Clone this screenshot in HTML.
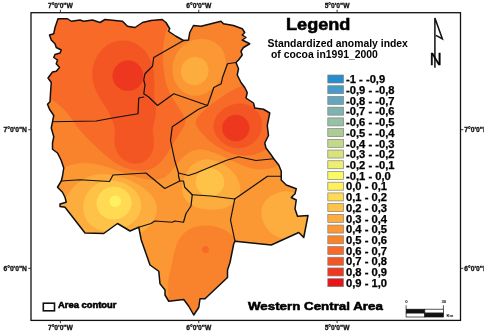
<!DOCTYPE html><html><head><meta charset="utf-8"><title>Standardized anomaly index of cocoa</title><style>
html,body{margin:0;padding:0;background:#fff}
#m{position:relative;width:484px;height:332px;overflow:hidden;background:#fff;font-family:"Liberation Sans",sans-serif;color:#000}
.t{position:absolute;white-space:nowrap;line-height:1;transform-origin:0 0}
.blk{font-weight:bold;-webkit-text-stroke:0.55px #000}
.lg{font-weight:bold;font-size:10px;left:346px;transform:scaleX(1.12);-webkit-text-stroke:0.25px #000}
.ax{font-size:6.7px;font-weight:bold;color:#111;-webkit-text-stroke:0.3px #111}

</style></head><body><div id="m">
<svg width="484" height="332" viewBox="0 0 484 332" style="position:absolute;left:0;top:0">
<defs><clipPath id="mc"><path d="M58,18.75 L67.5,18.75 L71.25,21.25 L80,20 L83.75,21.25 L92.5,20 L100,22.5 L105,19.5 L115,20.5 L122.5,21.25 L127.5,26.25 L135,27.5 L142.5,22.5 L151,20.5 L162.25,19.5 L166,22.5 L169.75,28.75 L168.5,31.25 L176,36.25 L183.5,40.5 L188.5,40 L189.75,32.5 L193.5,25.5 L201,26.25 L211,23.75 L221,21.25 L223.5,23.75 L233.5,25.5 L242.25,28.75 L244.75,32.5 L242.25,35 L246,37.5 L242.25,40 L249.75,43.75 L243.5,47.5 L241,51.25 L242.25,55 L238.5,60 L236,62.5 L238.5,68.75 L237.25,75 L241,82.5 L244.75,87.5 L247.25,92.5 L246,98 L253.5,103 L254.75,108 L263.5,109.25 L269.75,113 L267.25,125.5 L268.5,135.5 L264.75,143 L266,148 L271.25,155 L273.75,158.75 L278.75,165 L281.25,171.25 L281.25,180 L286.25,185 L296.25,188.75 L295,193.75 L291.25,197.5 L296.25,200 L295,208.75 L297.5,216.25 L308,215.5 L303.75,237.5 L298.75,232.5 L271.25,245 L235,241.25 L233.75,243.75 L230,262.5 L227.5,270 L227.5,277.5 L205,298.75 L200,298.75 L198.75,307.5 L193.75,315 L188.75,306.25 L183.75,299.5 L168.75,301.25 L165,295 L165,290 L160,283.75 L158.75,271.25 L150,265 L141.25,240 L138.75,227.25 L130,231 L117.5,223.5 L103.75,233.5 L85,233 L65,207.25 L60,206.5 L60,204 L66.25,202.25 L65,197.25 L62.5,192.25 L57.5,187.25 L61.25,181 L62.5,176 L63.75,168 L61.25,160.5 L57.5,153 L52.5,149.25 L52.5,143 L53.75,136.75 L51.25,128 L52.5,121.75 L53.75,115.5 L49.5,109.25 L47.5,104.25 L50,101.75 L50.5,93 L51.25,82.5 L48,78 L52.5,72 L56.25,71.25 L59.5,67.5 L56.25,63.75 L57.5,60 L53.75,57.5 L55,54.5 L60,53 L61.25,50 L56.25,47.5 L55,43.75 L51.25,40 L49.5,35 L53.75,33.75 L55,27.5Z"/></clipPath></defs>
<g clip-path="url(#mc)">
<rect x="40" y="10" width="280" height="312" fill="#f9832d"/>
<path d="M115.0,195.0 116.0,195.0 118.0,195.6 120.0,197.0 121.2,199.0 121.7,201.0 121.4,203.0 121.1,204.0 120.0,205.6 118.0,207.0 116.0,207.6 114.0,207.5 113.0,207.2 111.0,206.0 110.1,205.0 109.6,204.0 109.0,202.0 109.1,200.0 109.4,199.0 110.6,197.0 111.8,196.0 113.0,195.4 115.0,195.0Z" fill="#fff05f" stroke="#fff05f" stroke-width="0.6" fill-rule="evenodd"/>
<path d="M109.0,186.8 112.0,186.2 116.0,186.3 119.0,186.9 122.0,188.0 125.0,189.7 127.6,192.0 129.9,195.0 131.3,198.0 132.0,201.0 132.1,203.0 132.0,205.0 131.3,208.0 130.0,210.9 128.0,213.7 126.0,215.6 123.0,217.6 120.0,219.0 117.0,219.8 113.0,220.1 109.0,219.5 106.0,218.5 103.3,217.0 100.9,215.0 98.5,212.0 97.1,209.0 96.3,206.0 96.1,204.0 96.1,202.0 96.4,200.0 97.0,198.0 98.3,195.0 100.5,192.0 102.6,190.0 105.8,188.0 109.0,186.8ZM114.8,195.0 113.0,195.4 112.0,195.9 110.6,197.0 109.4,199.0 109.1,200.0 109.0,202.0 109.6,204.0 110.1,205.0 111.0,206.0 113.0,207.2 114.0,207.5 116.0,207.6 118.0,207.0 120.0,205.6 121.1,204.0 121.4,203.0 121.7,201.0 121.2,199.0 120.0,197.0 118.0,195.6 116.0,195.0 114.8,195.0Z" fill="#ffda52" stroke="#ffda52" stroke-width="0.6" fill-rule="evenodd"/>
<path d="M207.0,167.9 209.0,167.7 212.0,167.9 215.0,168.7 217.5,170.0 220.0,171.9 221.9,174.0 223.1,176.0 224.3,179.0 224.7,181.0 224.7,184.0 224.0,187.0 223.0,189.2 221.0,191.9 219.0,193.6 216.7,195.0 214.0,196.0 211.0,196.5 208.0,196.3 205.0,195.6 203.0,194.8 200.3,193.0 198.4,191.0 197.0,189.0 195.7,186.0 195.2,183.0 195.3,180.0 196.1,177.0 197.6,174.0 199.2,172.0 201.6,170.0 204.0,168.7 207.0,167.9ZM104.0,180.8 109.0,180.1 112.0,180.1 115.0,180.4 118.0,180.9 121.0,181.7 124.0,182.8 126.5,184.0 131.4,187.0 133.8,189.0 135.7,191.0 137.4,193.0 138.7,195.0 139.7,197.0 140.8,200.0 141.5,204.0 141.6,207.0 141.3,209.0 140.6,212.0 139.8,214.0 137.5,218.0 135.8,220.0 133.8,222.0 131.4,224.0 129.0,225.6 124.0,228.3 118.0,230.5 115.0,231.2 112.0,231.7 109.0,231.9 106.0,231.8 101.0,231.0 98.0,230.0 96.0,229.1 92.0,226.6 90.0,224.8 88.3,223.0 86.8,221.0 85.6,219.0 84.7,217.0 83.6,214.0 83.2,212.0 82.8,209.0 82.7,206.0 83.0,203.0 83.5,201.0 84.4,198.0 85.7,195.0 86.8,193.0 88.2,191.0 90.0,188.8 91.9,187.0 94.4,185.0 97.0,183.4 99.0,182.5 101.0,181.7 104.0,180.8ZM108.3,187.0 105.0,188.4 102.0,190.5 99.6,193.0 97.8,196.0 96.7,199.0 96.1,202.0 96.1,204.0 96.3,206.0 97.1,209.0 98.5,212.0 100.9,215.0 104.0,217.4 107.0,218.9 110.0,219.7 114.0,220.1 118.0,219.6 121.0,218.6 124.0,217.1 126.7,215.0 129.0,212.4 130.5,210.0 131.6,207.0 132.1,204.0 132.1,202.0 131.8,200.0 130.9,197.0 129.2,194.0 127.6,192.0 125.0,189.7 122.0,188.0 119.0,186.9 115.0,186.2 112.0,186.2 108.3,187.0Z" fill="#fec248" stroke="#fec248" stroke-width="0.6" fill-rule="evenodd"/>
<path d="M192.0,56.9 195.0,56.5 198.0,56.9 201.0,57.9 203.0,59.0 205.3,61.0 207.0,63.3 208.2,66.0 208.9,69.0 208.9,72.0 208.3,75.0 207.0,78.0 205.7,80.0 203.8,82.0 201.0,83.9 198.5,85.0 196.0,85.5 193.0,85.6 191.0,85.2 188.0,84.1 186.0,82.8 184.0,80.9 182.1,78.0 181.0,75.2 180.6,73.0 180.6,70.0 180.9,68.0 181.9,65.0 183.0,63.0 185.0,60.6 187.0,59.0 189.0,57.9 192.0,56.9ZM205.0,159.0 209.0,159.0 214.0,159.9 219.0,161.6 223.7,164.0 228.0,167.0 231.4,170.0 234.9,174.0 237.5,178.0 239.3,182.0 240.3,186.0 240.7,190.0 240.3,194.0 239.7,196.0 238.8,198.0 236.7,201.0 234.0,203.6 230.4,206.0 228.0,207.2 225.0,208.3 222.0,209.1 218.0,209.8 215.0,210.1 211.0,210.2 207.0,209.9 203.0,209.4 199.0,208.5 196.0,207.5 193.0,206.1 191.0,205.0 189.0,203.6 187.1,202.0 185.4,200.0 184.1,198.0 183.1,196.0 182.2,193.0 181.8,190.0 181.8,187.0 182.3,183.0 183.0,180.0 184.4,176.0 185.8,173.0 187.5,170.0 189.8,167.0 191.7,165.0 194.0,163.1 196.0,161.8 199.0,160.4 202.0,159.5 205.0,159.0ZM206.3,168.0 203.4,169.0 201.0,170.4 199.0,172.2 197.0,175.0 196.0,177.3 195.3,180.0 195.2,183.0 195.7,186.0 197.0,189.0 198.4,191.0 200.3,193.0 203.0,194.8 205.0,195.6 208.0,196.3 211.0,196.5 214.0,196.0 216.7,195.0 219.0,193.6 221.0,191.9 223.0,189.2 224.0,187.0 224.7,184.0 224.7,181.0 224.3,179.0 223.1,176.0 221.9,174.0 220.0,171.9 217.5,170.0 215.0,168.7 212.0,167.9 209.0,167.7 206.3,168.0ZM98.0,173.9 102.0,173.7 107.0,173.8 112.0,174.5 118.0,175.8 124.0,177.6 130.0,180.0 134.3,182.0 139.7,185.0 144.1,188.0 147.8,191.0 151.7,195.0 153.9,198.0 155.6,201.0 156.7,204.0 157.3,207.0 157.3,211.0 156.7,214.0 155.8,217.0 154.4,220.0 152.6,223.0 150.2,226.0 148.2,228.0 145.8,230.0 143.0,231.9 139.3,234.0 127.8,240.0 115.0,247.4 108.0,250.8 103.0,252.4 99.0,253.3 94.0,253.7 90.0,253.5 86.0,252.8 83.0,252.0 80.0,250.8 77.0,249.3 74.0,247.3 71.2,245.0 69.0,242.8 67.0,240.3 65.0,237.3 63.3,234.0 62.1,231.0 61.2,228.0 60.6,225.0 60.1,221.0 60.1,218.0 60.3,214.0 60.7,211.0 61.7,207.0 62.6,204.0 64.2,200.0 66.3,196.0 68.2,193.0 70.4,190.0 73.0,187.0 76.0,184.0 78.5,182.0 81.3,180.0 84.7,178.0 88.0,176.5 91.0,175.4 94.0,174.6 98.0,173.9ZM103.3,181.0 100.1,182.0 97.8,183.0 95.0,184.6 93.1,186.0 90.8,188.0 89.0,190.0 86.2,194.0 85.2,196.0 84.0,199.0 83.2,202.0 82.8,205.0 82.7,208.0 83.0,211.0 83.6,214.0 84.3,216.0 85.6,219.0 86.8,221.0 88.3,223.0 90.0,224.8 92.0,226.6 94.0,228.0 96.0,229.1 99.0,230.4 104.0,231.6 109.0,231.9 112.0,231.7 115.0,231.2 121.0,229.5 126.0,227.3 131.0,224.3 134.9,221.0 136.7,219.0 138.1,217.0 140.2,213.0 140.9,211.0 141.5,208.0 141.6,206.0 141.4,203.0 140.5,199.0 139.2,196.0 138.0,194.0 136.6,192.0 134.8,190.0 131.0,186.7 128.4,185.0 126.0,183.7 121.0,181.7 118.0,180.9 115.0,180.4 112.0,180.1 109.0,180.1 106.0,180.5 103.3,181.0ZM279.0,192.0 284.0,191.1 289.0,191.1 293.7,192.0 298.0,193.6 302.0,196.0 305.4,199.0 307.2,201.0 308.5,203.0 310.5,207.0 311.7,211.0 312.1,214.0 312.2,216.0 311.9,219.0 311.6,221.0 310.3,225.0 308.1,229.0 306.5,231.0 305.0,232.6 303.0,234.4 301.0,235.8 297.0,237.8 295.0,238.5 292.0,239.2 290.0,239.4 287.0,239.5 282.0,238.8 279.0,237.9 277.0,237.0 273.0,234.7 270.7,233.0 268.6,231.0 265.4,227.0 264.0,224.6 262.8,222.0 261.8,219.0 261.3,217.0 260.9,213.0 261.1,210.0 261.5,208.0 262.1,206.0 263.0,204.0 264.2,202.0 265.8,200.0 269.0,197.0 271.0,195.5 273.7,194.0 276.0,193.0 279.0,192.0Z" fill="#fdac3e" stroke="#fdac3e" stroke-width="0.6" fill-rule="evenodd"/>
<path d="M197.0,38.9 200.0,38.6 203.0,38.6 208.0,39.3 211.0,40.2 213.0,41.1 216.0,42.8 218.0,44.4 219.8,46.0 221.5,48.0 223.0,50.3 224.4,53.0 225.1,55.0 225.9,58.0 226.3,61.0 226.3,64.0 225.9,67.0 225.3,70.0 224.3,73.0 223.0,76.0 221.4,79.0 219.3,82.0 216.9,85.0 215.0,86.9 212.7,89.0 210.1,91.0 208.0,92.3 205.0,93.9 202.0,95.1 199.0,95.9 196.0,96.2 194.0,96.2 191.0,95.7 189.0,95.2 185.0,93.3 183.0,92.0 181.0,90.4 177.9,87.0 175.4,83.0 174.4,81.0 173.4,78.0 172.3,73.0 172.1,70.0 172.2,67.0 172.9,62.0 174.5,57.0 177.0,52.1 180.0,48.2 182.0,46.2 184.0,44.5 188.0,42.0 192.0,40.2 197.0,38.9ZM191.5,57.0 189.0,57.9 187.0,59.0 185.0,60.6 183.0,63.0 181.9,65.0 180.9,68.0 180.5,71.0 180.7,74.0 181.6,77.0 182.6,79.0 184.1,81.0 186.3,83.0 189.0,84.6 191.0,85.2 194.0,85.6 197.0,85.4 200.0,84.4 202.5,83.0 204.8,81.0 206.4,79.0 207.5,77.0 208.6,74.0 209.0,71.0 208.8,68.0 208.0,65.4 206.8,63.0 205.0,60.7 203.0,59.0 200.0,57.4 197.0,56.7 194.0,56.6 191.5,57.0ZM194.0,150.0 197.0,149.3 201.0,149.1 205.0,149.6 209.0,150.6 214.0,152.3 219.0,154.3 239.0,163.5 246.0,166.4 252.0,168.2 255.0,168.8 258.0,169.1 263.0,169.1 269.0,168.2 275.0,166.9 290.0,162.8 297.0,161.1 305.0,159.5 312.0,158.4 320.0,157.7 327.0,157.6 335.0,158.0 342.0,158.8 348.2,160.0 355.0,161.7 361.8,164.0 368.0,166.6 374.0,169.5 380.1,173.0 386.1,177.0 391.3,181.0 394.8,184.0 399.0,188.0 402.8,192.0 406.2,196.0 412.2,204.0 414.8,208.0 417.7,213.0 422.1,222.0 424.2,227.0 425.9,232.0 428.7,242.0 430.5,252.0 431.5,262.0 431.6,267.0 431.5,273.0 430.6,283.0 428.8,293.0 426.0,303.0 424.3,308.0 422.3,313.0 417.9,322.0 415.0,327.0 412.4,331.0 286.0,331.0 273.5,306.0 266.2,292.0 252.0,266.8 242.8,250.0 239.8,245.0 237.0,241.0 234.0,237.5 231.0,234.6 227.5,232.0 223.9,230.0 220.0,228.4 215.0,226.9 210.0,226.1 205.0,225.8 200.0,226.2 195.0,227.2 191.0,228.7 187.1,231.0 183.6,234.0 181.1,237.0 178.6,241.0 176.4,246.0 174.4,253.0 172.0,265.1 169.3,277.0 168.4,282.0 168.2,285.0 168.3,288.0 169.3,299.0 169.4,306.0 169.0,311.9 167.4,324.0 166.8,331.0 0.0,331.0 0.0,207.3 0.4,207.0 7.3,201.0 13.7,196.0 22.3,190.0 30.3,185.0 42.5,178.0 55.7,171.0 64.0,167.1 71.0,164.6 77.0,163.2 83.0,162.6 89.0,162.7 95.0,163.5 100.0,164.6 106.0,166.3 128.0,173.9 139.0,177.2 144.0,178.4 149.0,179.3 153.0,179.6 157.0,179.4 160.0,178.9 162.0,178.2 165.0,176.6 167.0,175.1 171.0,171.1 179.2,161.0 184.0,156.0 186.4,154.0 189.0,152.2 191.3,151.0 194.0,150.0ZM205.0,159.0 202.0,159.5 199.0,160.4 196.0,161.8 194.0,163.1 191.7,165.0 189.8,167.0 187.5,170.0 185.8,173.0 184.4,176.0 183.0,180.0 182.3,183.0 181.8,187.0 181.8,190.0 182.2,193.0 183.1,196.0 184.1,198.0 185.4,200.0 187.1,202.0 189.0,203.6 191.0,205.0 193.0,206.1 196.0,207.5 199.0,208.5 203.0,209.4 207.0,209.9 211.0,210.2 215.0,210.1 218.0,209.8 222.0,209.1 225.0,208.3 228.0,207.2 230.4,206.0 234.0,203.6 236.7,201.0 238.8,198.0 239.7,196.0 240.3,194.0 240.7,190.0 240.3,186.0 239.3,182.0 237.5,178.0 234.9,174.0 231.4,170.0 228.0,167.0 223.7,164.0 219.0,161.6 214.0,159.9 209.0,159.0 205.0,159.0ZM97.6,174.0 94.0,174.6 91.0,175.4 88.0,176.5 84.7,178.0 81.3,180.0 78.5,182.0 76.0,184.0 73.0,187.0 70.4,190.0 68.2,193.0 66.3,196.0 64.2,200.0 62.6,204.0 61.7,207.0 60.7,211.0 60.2,215.0 60.1,219.0 60.2,222.0 60.8,226.0 61.5,229.0 62.5,232.0 63.8,235.0 65.4,238.0 67.5,241.0 70.0,243.9 72.0,245.7 74.0,247.3 77.0,249.3 80.0,250.8 83.0,252.0 86.0,252.8 90.0,253.5 94.0,253.7 99.0,253.3 103.0,252.4 108.0,250.8 115.0,247.4 127.8,240.0 139.3,234.0 143.0,231.9 145.8,230.0 148.2,228.0 150.2,226.0 152.6,223.0 154.4,220.0 155.8,217.0 156.7,214.0 157.3,211.0 157.3,207.0 156.7,204.0 155.6,201.0 153.9,198.0 151.7,195.0 147.8,191.0 144.1,188.0 139.7,185.0 134.3,182.0 130.0,180.0 124.0,177.6 118.0,175.8 112.0,174.5 107.0,173.8 102.0,173.7 97.6,174.0ZM279.0,192.0 276.0,193.0 273.7,194.0 271.0,195.5 269.0,197.0 265.8,200.0 264.2,202.0 263.0,204.0 262.1,206.0 261.5,208.0 261.1,210.0 260.9,213.0 261.3,217.0 261.8,219.0 262.8,222.0 264.0,224.6 265.4,227.0 268.6,231.0 270.7,233.0 273.0,234.7 277.0,237.0 279.0,237.9 282.0,238.8 287.0,239.5 290.0,239.4 292.0,239.2 295.0,238.5 297.0,237.8 301.0,235.8 303.0,234.4 305.0,232.6 306.5,231.0 308.1,229.0 310.3,225.0 311.6,221.0 311.9,219.0 312.2,216.0 312.1,214.0 311.7,211.0 310.5,207.0 308.5,203.0 307.2,201.0 305.4,199.0 302.0,196.0 298.0,193.6 293.7,192.0 289.0,191.1 284.0,191.1 279.0,192.0Z" fill="#fb9834" stroke="#fb9834" stroke-width="0.6" fill-rule="evenodd"/>
<path d="M181.0,0.9 181.5,0.0 483.0,0.0 483.0,331.0 412.4,331.0 416.0,325.4 419.0,319.9 421.8,314.0 424.3,308.0 426.4,302.0 428.3,295.0 429.6,289.0 430.7,282.0 431.3,276.0 431.6,269.0 431.5,262.0 430.9,255.0 429.9,248.0 428.7,242.0 426.9,235.0 424.9,229.0 422.6,223.0 419.8,217.0 416.6,211.0 412.9,205.0 408.6,199.0 404.6,194.0 400.0,189.0 395.9,185.0 391.3,181.0 386.1,177.0 380.1,173.0 375.0,170.0 370.0,167.5 364.0,164.9 358.0,162.7 352.0,160.9 343.0,159.0 334.0,157.9 325.0,157.6 316.0,158.0 308.0,159.0 299.0,160.6 291.0,162.5 274.5,167.0 269.0,168.2 263.0,169.1 258.0,169.1 255.0,168.8 252.0,168.2 249.0,167.4 245.0,166.0 239.0,163.5 220.0,154.7 211.0,151.2 207.0,150.0 204.0,149.4 201.0,149.1 198.0,149.2 194.0,150.0 191.0,151.1 188.0,152.8 185.1,155.0 182.9,157.0 180.0,160.1 170.0,172.2 167.1,175.0 165.0,176.6 163.0,177.7 160.0,178.9 157.0,179.4 154.0,179.6 151.0,179.5 147.0,179.0 142.0,177.9 137.0,176.7 126.0,173.3 107.0,166.6 98.0,164.1 93.0,163.2 88.0,162.6 83.0,162.6 79.0,162.9 75.0,163.6 71.0,164.6 67.0,165.9 63.0,167.6 53.7,172.0 38.9,180.0 27.0,187.0 17.9,193.0 8.5,200.0 0.0,207.3 0.0,79.3 7.0,83.1 15.0,86.6 23.0,89.4 39.0,94.2 46.0,96.8 52.0,99.7 57.0,102.9 62.0,107.0 66.0,111.2 69.9,116.0 76.3,125.0 80.2,130.0 84.5,135.0 89.4,140.0 101.0,151.0 107.8,157.0 114.5,162.0 120.0,165.2 126.0,167.8 132.0,169.6 138.0,170.4 141.0,170.5 144.0,170.3 149.0,169.2 153.0,167.6 157.1,165.0 159.5,163.0 161.4,161.0 163.8,158.0 166.6,154.0 175.0,139.9 182.6,128.0 184.2,125.0 185.0,122.0 185.1,121.0 184.7,119.0 183.5,116.0 181.8,113.0 175.0,102.7 172.0,97.8 169.0,92.0 167.0,87.2 165.4,82.0 164.1,76.0 163.2,69.0 162.6,61.0 162.6,53.0 163.1,45.0 164.1,38.0 165.8,31.0 168.0,24.7 171.0,18.2 174.0,12.7 181.0,0.9ZM196.5,39.0 192.0,40.2 189.0,41.5 187.0,42.5 183.0,45.3 181.0,47.2 179.0,49.4 176.0,53.8 174.1,58.0 172.7,63.0 172.1,68.0 172.3,73.0 173.4,78.0 174.4,81.0 175.4,83.0 178.0,87.1 180.0,89.4 182.0,91.2 184.0,92.7 186.0,93.9 190.0,95.5 192.0,95.9 195.0,96.2 197.0,96.1 200.0,95.7 203.0,94.8 206.0,93.4 208.5,92.0 211.0,90.3 213.8,88.0 216.0,85.9 217.7,84.0 220.1,81.0 222.0,78.0 223.5,75.0 224.7,72.0 225.6,69.0 226.1,66.0 226.3,63.0 226.2,60.0 225.7,57.0 225.0,54.6 224.0,52.1 222.8,50.0 221.5,48.0 219.8,46.0 217.6,44.0 215.0,42.2 213.0,41.1 211.0,40.2 208.0,39.3 205.0,38.7 202.0,38.5 199.0,38.7 196.5,39.0ZM255.9,83.0 250.0,83.8 247.0,84.5 243.0,85.8 239.0,87.4 235.0,89.3 227.0,93.8 217.0,100.5 207.3,108.0 203.9,111.0 200.8,114.0 198.3,117.0 197.0,119.0 196.6,120.0 196.2,122.0 196.2,123.0 196.7,125.0 197.7,127.0 198.9,129.0 202.9,134.0 207.8,139.0 212.6,143.0 218.5,147.0 225.0,150.4 230.0,152.5 234.0,153.7 238.0,154.6 242.0,155.2 246.0,155.3 250.0,155.0 254.0,154.2 257.0,153.3 261.0,151.7 265.0,149.4 268.5,147.0 271.9,144.0 274.8,141.0 278.0,137.0 280.5,133.0 282.0,130.0 283.6,126.0 284.8,122.0 285.5,118.0 285.9,113.0 285.6,109.0 284.9,105.0 283.7,101.0 281.9,97.0 279.9,94.0 277.0,90.6 274.0,88.1 271.0,86.2 268.0,84.8 264.0,83.6 260.0,83.1 255.9,83.0ZM202.0,226.0 207.0,225.9 212.0,226.3 217.0,227.4 221.7,229.0 225.8,231.0 230.0,233.8 233.6,237.0 236.2,240.0 239.1,244.0 242.2,249.0 252.0,266.8 265.6,291.0 272.5,304.0 286.0,331.0 166.8,331.0 167.4,324.0 169.0,311.9 169.4,306.0 169.3,299.0 168.3,288.0 168.2,285.0 168.4,282.0 169.3,277.0 172.0,265.1 174.2,254.0 176.1,247.0 178.1,242.0 180.4,238.0 182.7,235.0 185.8,232.0 189.0,229.8 193.0,227.9 197.0,226.7 202.0,226.0ZM203.5,247.0 202.6,248.0 202.3,249.0 202.3,250.0 203.0,251.7 204.0,252.5 205.0,252.8 206.0,252.8 207.0,252.5 207.8,252.0 208.5,251.0 208.8,250.0 208.8,249.0 208.0,247.4 207.0,246.6 206.0,246.3 205.0,246.3 203.5,247.0Z" fill="#f9832d" stroke="#f9832d" stroke-width="0.6" fill-rule="evenodd"/>
<path d="M1.0,0.0 181.5,0.0 174.0,12.7 171.0,18.2 168.0,24.7 166.0,30.2 164.3,37.0 163.2,44.0 162.6,52.0 162.6,60.0 163.1,68.0 163.9,75.0 165.1,81.0 166.9,87.0 169.0,92.0 172.0,97.8 175.0,102.7 181.8,113.0 183.5,116.0 184.7,119.0 185.1,121.0 185.0,122.0 184.2,125.0 182.6,128.0 175.0,139.9 167.2,153.0 163.1,159.0 159.5,163.0 155.7,166.0 152.0,168.1 149.7,169.0 147.0,169.7 142.0,170.4 137.0,170.3 131.0,169.3 125.0,167.4 119.6,165.0 116.1,163.0 113.0,161.0 106.6,156.0 98.8,149.0 88.4,139.0 83.6,134.0 79.3,129.0 69.9,116.0 66.0,111.2 62.0,107.0 57.0,102.9 52.0,99.7 46.0,96.8 39.0,94.2 23.0,89.4 15.0,86.6 7.0,83.1 0.0,79.3 0.0,0.0 1.0,0.0ZM120.0,41.0 117.0,41.5 114.0,42.3 111.0,43.4 109.0,44.5 106.5,46.0 104.0,48.0 101.9,50.0 99.4,53.0 97.5,56.0 95.9,59.0 94.7,62.0 93.8,65.0 93.1,68.0 92.6,72.0 92.6,75.0 92.9,79.0 93.4,82.0 94.5,86.0 96.9,92.0 100.0,97.7 105.9,107.0 108.3,111.0 111.7,118.0 114.1,124.0 114.9,127.0 115.2,130.0 114.8,140.0 114.9,144.0 115.7,148.0 117.3,152.0 119.2,155.0 120.8,157.0 123.0,159.0 126.0,160.9 129.0,162.3 132.0,163.1 135.0,163.4 138.0,163.2 141.0,162.5 144.0,161.2 146.0,159.9 148.1,158.0 149.8,156.0 151.5,153.0 152.7,150.0 153.3,147.0 153.6,144.0 153.5,141.0 152.5,132.0 152.4,129.0 152.9,126.0 155.0,117.0 155.4,114.0 155.5,111.0 155.3,107.0 154.2,99.0 153.8,95.0 154.0,80.0 153.8,76.0 153.3,72.0 152.6,68.0 151.8,65.0 150.4,61.0 149.1,58.0 146.0,52.9 144.0,50.4 142.0,48.3 140.0,46.6 137.0,44.6 135.0,43.5 132.0,42.3 129.0,41.5 126.0,41.0 123.0,40.8 120.0,41.0ZM256.0,83.0 260.0,83.1 264.0,83.6 268.0,84.8 271.0,86.2 274.0,88.1 277.0,90.6 279.9,94.0 281.9,97.0 283.7,101.0 284.9,105.0 285.6,109.0 285.9,113.0 285.5,118.0 284.8,122.0 283.6,126.0 282.0,130.0 280.5,133.0 278.0,137.0 274.8,141.0 271.9,144.0 268.5,147.0 265.0,149.4 261.0,151.7 257.0,153.3 254.0,154.2 250.0,155.0 246.0,155.3 242.0,155.2 238.0,154.6 234.0,153.7 230.0,152.5 225.0,150.4 218.5,147.0 212.6,143.0 207.8,139.0 202.9,134.0 198.9,129.0 197.7,127.0 196.7,125.0 196.2,123.0 196.2,122.0 196.6,120.0 197.0,119.0 198.3,117.0 200.8,114.0 203.9,111.0 207.3,108.0 217.0,100.5 227.0,93.8 235.0,89.3 239.0,87.4 243.0,85.8 247.0,84.5 250.0,83.8 253.0,83.3 256.0,83.0ZM237.3,104.0 233.0,104.8 228.0,106.6 224.0,108.9 220.2,112.0 217.6,115.0 216.3,117.0 215.3,119.0 214.6,121.0 214.1,123.0 213.9,127.0 214.5,131.0 216.2,135.0 217.4,137.0 219.0,139.0 222.1,142.0 226.0,144.6 228.0,145.6 231.0,146.7 235.0,147.6 238.0,147.8 240.0,147.8 244.6,147.0 247.0,146.2 249.0,145.3 252.7,143.0 255.9,140.0 257.5,138.0 258.8,136.0 260.5,132.0 261.5,128.0 261.6,124.0 261.1,120.0 259.7,116.0 258.6,114.0 257.2,112.0 255.4,110.0 254.0,108.7 252.0,107.3 250.0,106.2 246.0,104.7 242.0,104.0 237.3,104.0ZM204.0,246.6 205.0,246.3 206.0,246.3 207.6,247.0 208.4,248.0 208.8,249.0 208.8,250.0 208.5,251.0 207.8,252.0 207.0,252.5 206.0,252.8 205.0,252.8 204.0,252.5 203.3,252.0 202.6,251.0 202.3,250.0 202.3,249.0 203.0,247.5 204.0,246.6Z" fill="#f76a28" stroke="#f76a28" stroke-width="0.6" fill-rule="evenodd"/>
<path d="M121.0,40.9 124.0,40.9 127.0,41.1 130.0,41.7 133.0,42.7 135.0,43.5 138.0,45.2 141.0,47.4 143.0,49.3 145.0,51.5 147.0,54.3 148.6,57.0 150.0,60.0 152.1,66.0 153.5,73.0 154.0,80.0 153.8,95.0 154.2,99.0 155.3,107.0 155.5,111.0 155.4,114.0 155.0,117.0 152.9,126.0 152.4,129.0 152.5,132.0 153.5,141.0 153.6,144.0 153.3,147.0 152.7,150.0 151.5,153.0 149.8,156.0 148.1,158.0 146.0,159.9 144.0,161.2 141.0,162.5 138.0,163.2 135.0,163.4 132.0,163.1 129.0,162.3 126.0,160.9 123.0,159.0 120.8,157.0 119.2,155.0 117.3,152.0 115.7,148.0 114.9,144.0 114.8,140.0 115.2,130.0 114.9,127.0 114.1,124.0 111.7,118.0 108.3,111.0 105.9,107.0 100.0,97.7 96.9,92.0 94.5,86.0 93.4,82.0 92.9,79.0 92.6,75.0 92.6,72.0 93.1,68.0 93.8,65.0 94.7,62.0 95.9,59.0 97.5,56.0 99.4,53.0 101.9,50.0 104.0,48.0 106.5,46.0 109.0,44.5 112.0,43.0 115.0,42.0 118.0,41.3 121.0,40.9ZM124.7,61.0 122.0,61.9 119.0,63.6 117.0,65.4 115.0,68.0 113.6,71.0 113.0,74.0 112.9,77.0 113.4,80.0 114.6,83.0 116.0,85.0 117.9,87.0 120.0,88.5 123.0,89.9 126.0,90.5 129.0,90.5 132.0,90.0 135.0,89.0 138.0,87.1 140.0,85.0 141.4,83.0 142.2,81.0 142.9,78.0 143.0,75.0 142.5,72.0 141.3,69.0 140.0,66.8 138.0,64.6 136.0,63.0 134.0,61.9 131.0,60.9 128.0,60.6 124.7,61.0ZM238.0,103.9 241.0,103.9 243.0,104.1 247.0,105.0 251.0,106.7 253.0,108.0 255.0,109.6 256.4,111.0 257.9,113.0 260.0,116.8 261.3,121.0 261.7,125.0 261.5,128.0 261.1,130.0 259.8,134.0 257.5,138.0 255.0,141.0 251.3,144.0 247.5,146.0 245.0,146.9 243.0,147.4 239.0,147.8 237.0,147.8 234.0,147.4 229.1,146.0 225.0,144.0 221.0,141.0 218.2,138.0 216.8,136.0 215.7,134.0 214.3,130.0 213.8,126.0 214.3,122.0 215.8,118.0 218.0,114.5 221.0,111.3 225.0,108.2 229.0,106.2 233.0,104.8 238.0,103.9ZM231.1,116.0 229.0,117.0 226.4,119.0 224.7,121.0 223.5,123.0 222.8,125.0 222.4,128.0 222.8,131.0 223.4,133.0 224.5,135.0 226.1,137.0 228.6,139.0 231.0,140.2 234.0,140.9 236.0,141.1 239.0,140.7 241.0,140.1 243.1,139.0 245.5,137.0 247.1,135.0 248.1,133.0 248.8,131.0 249.1,128.0 248.8,125.0 248.1,123.0 247.1,121.0 245.4,119.0 243.0,117.1 241.0,116.1 239.0,115.5 236.0,115.1 234.0,115.3 231.1,116.0Z" fill="#f35523" stroke="#f35523" stroke-width="0.6" fill-rule="evenodd"/>
<path d="M125.0,60.9 128.0,60.6 131.0,60.9 134.0,61.9 136.0,63.0 138.0,64.6 140.1,67.0 141.8,70.0 142.7,73.0 143.1,76.0 142.8,79.0 141.8,82.0 140.8,84.0 139.0,86.2 136.7,88.0 134.0,89.4 131.0,90.3 128.0,90.6 125.0,90.3 122.0,89.5 120.0,88.5 117.0,86.2 115.2,84.0 114.1,82.0 113.2,79.0 112.8,76.0 113.1,73.0 114.0,70.0 115.0,68.0 117.0,65.4 119.0,63.6 122.0,61.9 125.0,60.9ZM232.0,115.7 234.0,115.3 237.0,115.2 240.0,115.7 242.0,116.5 244.0,117.8 246.0,119.6 247.6,122.0 248.5,124.0 249.0,126.0 249.1,129.0 248.5,132.0 247.7,134.0 246.4,136.0 244.4,138.0 242.0,139.6 240.0,140.4 237.2,141.0 235.0,141.0 232.0,140.5 230.0,139.8 228.0,138.6 226.0,136.9 224.5,135.0 223.0,132.0 222.6,130.0 222.5,127.0 223.0,124.4 224.0,122.0 225.4,120.0 227.5,118.0 230.0,116.5 232.0,115.7Z" fill="#ed371e" stroke="#ed371e" stroke-width="0.6" fill-rule="evenodd"/>
</g>
<g fill="none" stroke="#111" stroke-width="1.2" stroke-linejoin="round" stroke-linecap="round">
<path d="M183.5,40.5 L153.75,57.5 L152.5,66.25 L145,73.75 L143.75,80 L145,85 L143.75,93.75 L148.75,97 L157.5,105.5 L173.75,93.75 L207.5,105.5"/>
<path d="M143.75,97 L138.75,98 L138,113.75 L112.5,118 L96.25,121 L52.5,121.75"/>
<path d="M236,62.5 L227.5,63.75 L222.5,77.5 L221.25,83.75 L213.75,87.5 L211.25,95 L207.5,105.5"/>
<path d="M207.5,105.5 L198.5,109.25 L172.25,126.75 L170.5,140.5 L174.75,160.5 L178.5,173 L178.5,176 L179.75,181 L183.5,181 L184.75,187.25 L192.25,194.75"/>
<path d="M273.75,158.75 L256,160.5 L238.5,156.75 L226,160.5 L196,173 L188.5,175.5 L178.5,173"/>
<path d="M281.25,176.25 L267.5,176.25 L234.75,199"/>
<path d="M192.25,194.75 L211,196 L234.75,199"/>
<path d="M234.75,199 L230.5,220 L235,241.25"/>
<path d="M192.25,194.75 L191,206 L186,213.5 L183.5,222.25 L174.75,221 L172.25,222.25 L154.75,221 L151,223.5 L138.75,227.25"/>
<path d="M61.25,181 L80,179.75 L109.5,181.5 L113,175 L146,173 L164.75,188.5 L179.75,181"/>
<path d="M58,18.75 L67.5,18.75 L71.25,21.25 L80,20 L83.75,21.25 L92.5,20 L100,22.5 L105,19.5 L115,20.5 L122.5,21.25 L127.5,26.25 L135,27.5 L142.5,22.5 L151,20.5 L162.25,19.5 L166,22.5 L169.75,28.75 L168.5,31.25 L176,36.25 L183.5,40.5 L188.5,40 L189.75,32.5 L193.5,25.5 L201,26.25 L211,23.75 L221,21.25 L223.5,23.75 L233.5,25.5 L242.25,28.75 L244.75,32.5 L242.25,35 L246,37.5 L242.25,40 L249.75,43.75 L243.5,47.5 L241,51.25 L242.25,55 L238.5,60 L236,62.5 L238.5,68.75 L237.25,75 L241,82.5 L244.75,87.5 L247.25,92.5 L246,98 L253.5,103 L254.75,108 L263.5,109.25 L269.75,113 L267.25,125.5 L268.5,135.5 L264.75,143 L266,148 L271.25,155 L273.75,158.75 L278.75,165 L281.25,171.25 L281.25,180 L286.25,185 L296.25,188.75 L295,193.75 L291.25,197.5 L296.25,200 L295,208.75 L297.5,216.25 L308,215.5 L303.75,237.5 L298.75,232.5 L271.25,245 L235,241.25 L233.75,243.75 L230,262.5 L227.5,270 L227.5,277.5 L205,298.75 L200,298.75 L198.75,307.5 L193.75,315 L188.75,306.25 L183.75,299.5 L168.75,301.25 L165,295 L165,290 L160,283.75 L158.75,271.25 L150,265 L141.25,240 L138.75,227.25 L130,231 L117.5,223.5 L103.75,233.5 L85,233 L65,207.25 L60,206.5 L60,204 L66.25,202.25 L65,197.25 L62.5,192.25 L57.5,187.25 L61.25,181 L62.5,176 L63.75,168 L61.25,160.5 L57.5,153 L52.5,149.25 L52.5,143 L53.75,136.75 L51.25,128 L52.5,121.75 L53.75,115.5 L49.5,109.25 L47.5,104.25 L50,101.75 L50.5,93 L51.25,82.5 L48,78 L52.5,72 L56.25,71.25 L59.5,67.5 L56.25,63.75 L57.5,60 L53.75,57.5 L55,54.5 L60,53 L61.25,50 L56.25,47.5 L55,43.75 L51.25,40 L49.5,35 L53.75,33.75 L55,27.5Z" stroke-width="1.5"/>
</g>
<rect x="31" y="12.7" width="429.5" height="307.7" fill="none" stroke="#111" stroke-width="1.3"/>
<path d="M60.4,9.7V12.7M60.4,320.4V323.2" stroke="#222" stroke-width="0.9"/>
<path d="M198.75,9.7V12.7M198.75,320.4V323.2" stroke="#222" stroke-width="0.9"/>
<path d="M337.1,9.7V12.7M337.1,320.4V323.2" stroke="#222" stroke-width="0.9"/>
<path d="M28.2,129.7H31M460.5,129.7H463.3" stroke="#222" stroke-width="0.9"/>
<path d="M28.2,268.3H31M460.5,268.3H463.3" stroke="#222" stroke-width="0.9"/>
<path d="M434.9,67.8V18.1L442.4,38.9L436,35.4" fill="none" stroke="#111" stroke-width="1.5" stroke-linejoin="miter"/>
<rect x="327.8" y="75.00" width="15.7" height="8" fill="#268ecc" stroke="#808080" stroke-width="0.7"/>
<rect x="327.8" y="85.72" width="15.7" height="8" fill="#469bc8" stroke="#808080" stroke-width="0.7"/>
<rect x="327.8" y="96.44" width="15.7" height="8" fill="#64a6be" stroke="#808080" stroke-width="0.7"/>
<rect x="327.8" y="107.16" width="15.7" height="8" fill="#7eb4b0" stroke="#808080" stroke-width="0.7"/>
<rect x="327.8" y="117.88" width="15.7" height="8" fill="#96c2a4" stroke="#808080" stroke-width="0.7"/>
<rect x="327.8" y="128.60" width="15.7" height="8" fill="#accc96" stroke="#808080" stroke-width="0.7"/>
<rect x="327.8" y="139.32" width="15.7" height="8" fill="#c3d888" stroke="#808080" stroke-width="0.7"/>
<rect x="327.8" y="150.04" width="15.7" height="8" fill="#d8e47a" stroke="#808080" stroke-width="0.7"/>
<rect x="327.8" y="160.76" width="15.7" height="8" fill="#ecf06e" stroke="#808080" stroke-width="0.7"/>
<rect x="327.8" y="171.48" width="15.7" height="8" fill="#fafa64" stroke="#808080" stroke-width="0.7"/>
<rect x="327.8" y="182.20" width="15.7" height="8" fill="#fff05f" stroke="#808080" stroke-width="0.7"/>
<rect x="327.8" y="192.92" width="15.7" height="8" fill="#ffda52" stroke="#808080" stroke-width="0.7"/>
<rect x="327.8" y="203.64" width="15.7" height="8" fill="#fec248" stroke="#808080" stroke-width="0.7"/>
<rect x="327.8" y="214.36" width="15.7" height="8" fill="#fdac3e" stroke="#808080" stroke-width="0.7"/>
<rect x="327.8" y="225.08" width="15.7" height="8" fill="#fb9834" stroke="#808080" stroke-width="0.7"/>
<rect x="327.8" y="235.80" width="15.7" height="8" fill="#f9832d" stroke="#808080" stroke-width="0.7"/>
<rect x="327.8" y="246.52" width="15.7" height="8" fill="#f76a28" stroke="#808080" stroke-width="0.7"/>
<rect x="327.8" y="257.24" width="15.7" height="8" fill="#f35523" stroke="#808080" stroke-width="0.7"/>
<rect x="327.8" y="267.96" width="15.7" height="8" fill="#ed371e" stroke="#808080" stroke-width="0.7"/>
<rect x="327.8" y="278.68" width="15.7" height="8" fill="#e71418" stroke="#808080" stroke-width="0.7"/>
<rect x="43.3" y="303.2" width="11.2" height="7.6" fill="#fff" stroke="#111" stroke-width="1.6"/>
<g stroke="#111" stroke-width="0.7"><rect x="406.1" y="309.2" width="18.7" height="3.9" fill="#111"/><rect x="424.8" y="309.2" width="18.6" height="3.9" fill="#fff"/><rect x="406.1" y="313.1" width="18.7" height="3.9" fill="#fff"/><rect x="424.8" y="313.1" width="18.6" height="3.9" fill="#111"/><path d="M406.1,305.2V309.2M443.4,305.2V309.2"/></g>
</svg>
<div class="t blk" id="tl" style="left:286px;top:16.4px;font-size:16.4px;transform:scaleX(1.105)">Legend</div>
<div class="t" id="s1" style="left:267.6px;top:38.5px;font-size:10.4px;font-weight:bold;transform:scaleX(1.0)">Standardized anomaly index</div>
<div class="t" id="s2" style="left:271px;top:50.2px;font-size:10.4px;font-weight:bold;transform:scaleX(1.0)">of cocoa in1991_2000</div>
<div class="t lg" style="top:75.25px">-1 - -0,9</div>
<div class="t lg" style="top:85.97px">-0,9 - -0,8</div>
<div class="t lg" style="top:96.69px">-0,8 - -0,7</div>
<div class="t lg" style="top:107.41px">-0,7 - -0,6</div>
<div class="t lg" style="top:118.13px">-0,6 - -0,5</div>
<div class="t lg" style="top:128.85px">-0,5 - -0,4</div>
<div class="t lg" style="top:139.57px">-0,4 - -0,3</div>
<div class="t lg" style="top:150.29px">-0,3 - -0,2</div>
<div class="t lg" style="top:161.01px">-0,2 - -0,1</div>
<div class="t lg" style="top:171.73px">-0,1 - 0,0</div>
<div class="t lg" style="top:182.45px">0,0 - 0,1</div>
<div class="t lg" style="top:193.17px">0,1 - 0,2</div>
<div class="t lg" style="top:203.89px">0,2 - 0,3</div>
<div class="t lg" style="top:214.61px">0,3 - 0,4</div>
<div class="t lg" style="top:225.33px">0,4 - 0,5</div>
<div class="t lg" style="top:236.05px">0,5 - 0,6</div>
<div class="t lg" style="top:246.77px">0,6 - 0,7</div>
<div class="t lg" style="top:257.49px">0,7 - 0,8</div>
<div class="t lg" style="top:268.21px">0,8 - 0,9</div>
<div class="t lg" style="top:278.93px">0,9 - 1,0</div>
<div class="t blk" id="ac" style="left:58.4px;top:301.4px;font-size:8.7px;transform:scaleX(1.08)">Area contour</div>
<div class="t blk" id="wc" style="left:248.3px;top:300.5px;font-size:11.8px;transform:scaleX(1.13)">Western Central Area</div>
<div class="t" id="nn" style="left:429.7px;top:50.8px;font-size:16.4px;-webkit-text-stroke:0.45px #000;transform:scaleX(1.0)">N</div>
<div class="t ax" style="left:60.4px;top:2.6px;transform:translateX(-50%)">7°0'0"W</div>
<div class="t ax" style="left:60.4px;top:324.6px;transform:translateX(-50%)">7°0'0"W</div>
<div class="t ax" style="left:198.75px;top:2.6px;transform:translateX(-50%)">6°0'0"W</div>
<div class="t ax" style="left:198.75px;top:324.6px;transform:translateX(-50%)">6°0'0"W</div>
<div class="t ax" style="left:337.1px;top:2.6px;transform:translateX(-50%)">5°0'0"W</div>
<div class="t ax" style="left:337.1px;top:324.6px;transform:translateX(-50%)">5°0'0"W</div>
<div class="t ax" style="left:3.5px;top:127px">7°0'0"N</div>
<div class="t ax" style="left:464.3px;top:127px">7°0'0"N</div>
<div class="t ax" style="left:3.5px;top:265.7px">6°0'0"N</div>
<div class="t ax" style="left:464.3px;top:265.7px">6°0'0"N</div>
<div class="t" style="left:405.3px;top:299.5px;font-size:4.3px;font-weight:bold">0</div>
<div class="t" style="left:441.4px;top:299.5px;font-size:4.3px;font-weight:bold">30</div>
<div class="t" style="left:446.4px;top:314.4px;font-size:4.3px;font-weight:bold">Km</div>
</div></body></html>
